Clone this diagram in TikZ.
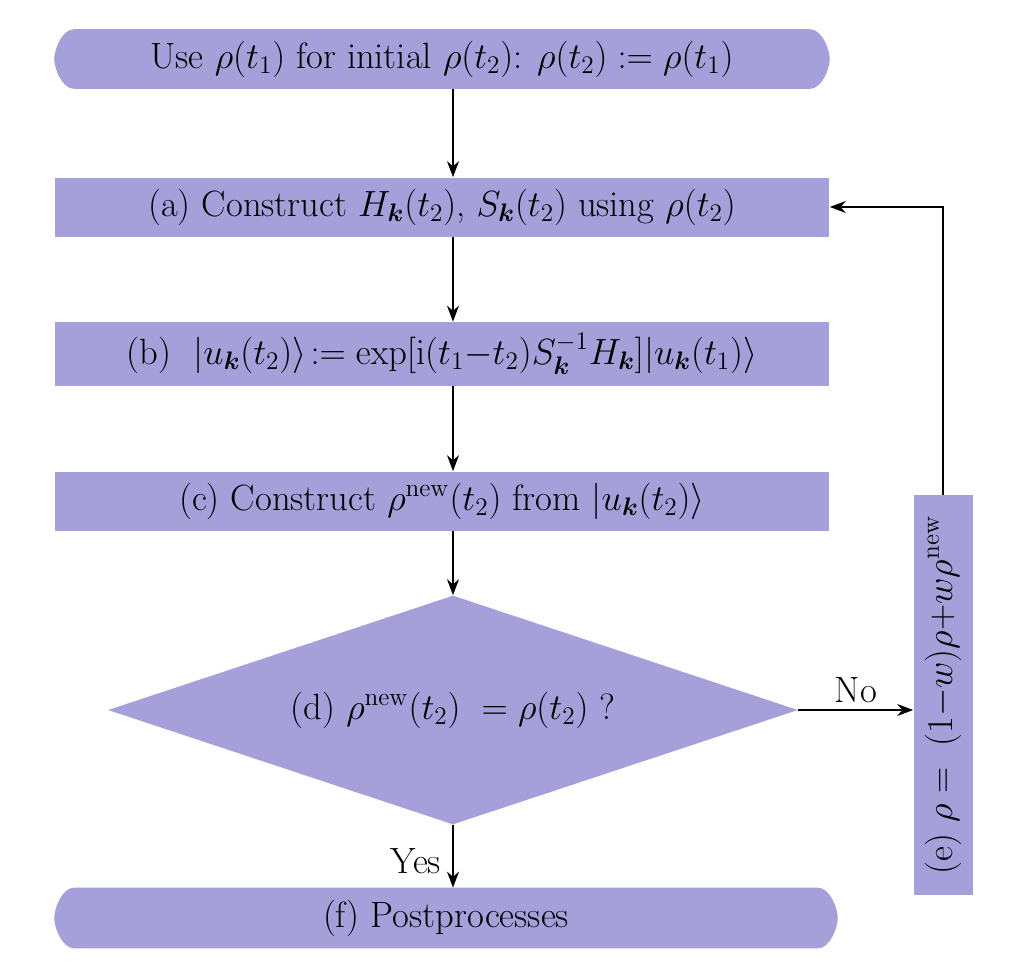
\documentclass[tikz,border=0pt]{standalone}
\usepackage{amsmath,amssymb}
\usetikzlibrary{shapes.geometric,arrows.meta}
\definecolor{boxfill}{RGB}{165,160,218}
\tikzset{
	every node/.style={font=\fontsize{20.8}{24}\selectfont},
	proc/.style={fill=boxfill, minimum width=15.5cm, minimum height=1.18cm, inner sep=0},
	term/.style={minimum width=14.7cm, minimum height=1.18cm, inner sep=0},
	flow/.style={-{Stealth[length=3.2mm,width=2.4mm]}, line width=1pt},
}
\newcommand{\bk}{\boldsymbol{k}}
% pointed round ends behind a terminal node
\newcommand{\termfill}[1]{
	\fill[boxfill] (#1.north west) -- (#1.north east)
		.. controls +(0.25cm,0) and +(0,0.18cm) .. ([xshift=0.4cm]#1.east)
		.. controls +(0,-0.18cm) and +(0.25cm,0) .. (#1.south east)
		-- (#1.south west)
		.. controls +(-0.25cm,0) and +(0,-0.18cm) .. ([xshift=-0.4cm]#1.west)
		.. controls +(0,0.18cm) and +(-0.25cm,0) .. (#1.north west) -- cycle;
}
\begin{document}
\begin{tikzpicture}[x=0.02cm,y=0.02cm]
	\useasboundingbox (0,0) rectangle (1018,-971);
	
	\node(start)[term] at (442,-59) {};
	\termfill{start}
	\node at (start) {Use $\rho(t_1)$ for initial $\rho(t_2)$: $\rho(t_2):=\rho(t_1)$};
	\node(a)[proc] at (442,-207) {(a) Construct $H_{\bk}(t_2)$, $S_{\bk}(t_2)$ using $\rho(t_2)$};
	\node(b)[proc, minimum height=1.28cm] at (442,-354) {(b)\ \ $|u_{\bk}(t_2)\rangle\!:=\exp[\mathrm{i}(t_1{-}t_2)S_{\bk}^{-1}H_{\bk}]|u_{\bk}(t_1)\rangle$};
	\node(c)[proc] at (442,-501) {(c) Construct $\rho^{\mathrm{new}}(t_2)$ from $|u_{\bk}(t_2)\rangle$};
	\node(d)[diamond, fill=boxfill, shape aspect=1.9, minimum width=13.8cm, minimum height=4.58cm, inner sep=0] at (453,-710) {(d) $\rho^{\mathrm{new}}(t_2)\ =\rho(t_2)$ ?};
	\node(e)[proc, rotate=90, minimum width=8cm] at (943,-695) {(e) $\rho=\ (1{-}w)\rho{+}w\rho^{\mathrm{new}}$};
	\node(f)[term, minimum width=14.86cm, minimum height=1.2cm] at (446,-918) {};
	\termfill{f}
	\node at (f) {(f) Postprocesses};
	
	\draw[flow] (start.south -| 453,0) -- (a.north -| 453,0);
	\draw[flow] (a.south -| 453,0) -- (b.north -| 453,0);
	\draw[flow] (b.south -| 453,0) -- (c.north -| 453,0);
	\draw[flow] (c.south -| 453,0) -- (d.north);
	\draw[flow] (d.south) -- node[left, xshift=-3pt, yshift=-3pt]{Yes} (f.north -| d.south);
	\draw[flow] (d.east) -- node[above]{No} (e.north |- d.east);
	\draw[flow] (e.east) |- (a.east);
\end{tikzpicture}
\end{document}
